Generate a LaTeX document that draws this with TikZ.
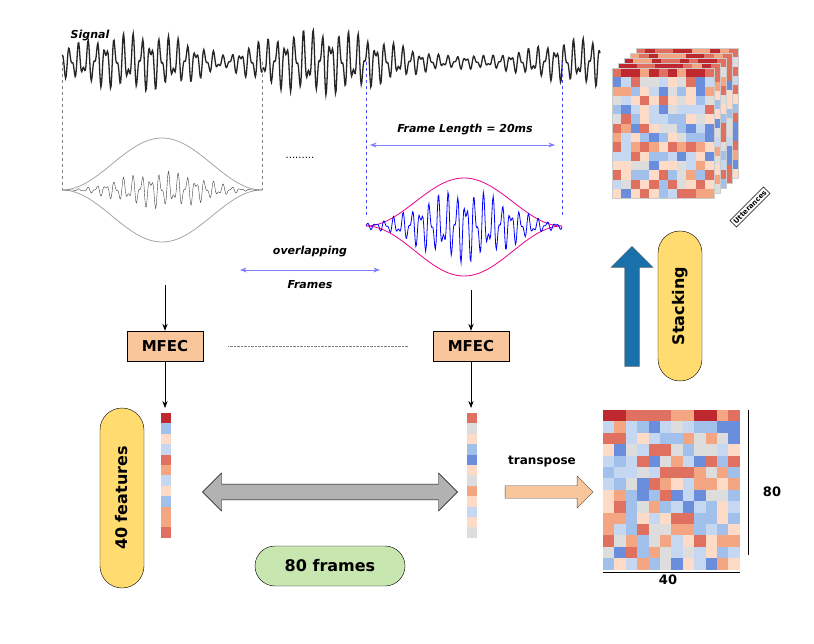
\documentclass[tikz,border=0pt]{standalone}
\usepackage{fontspec}
\setmainfont{DejaVu Sans}
\usetikzlibrary{shapes.arrows,arrows.meta}
\definecolor{hr1}{HTML}{C0282F}\definecolor{hr2}{HTML}{E07060}\definecolor{hr3}{HTML}{F4A582}
\definecolor{hr4}{HTML}{FDDBC7}\definecolor{hr5}{HTML}{DDDDDD}\definecolor{hr6}{HTML}{C6D7F2}
\definecolor{hr7}{HTML}{A2C0EC}\definecolor{hr8}{HTML}{6A8EDC}
\definecolor{mfec}{HTML}{F9C59A}\definecolor{pill}{HTML}{FFDB70}\definecolor{gpill}{HTML}{C8E6B0}
\definecolor{upc}{HTML}{1A70A8}
\tikzset{
 mfecbox/.style={draw=black,fill=mfec,minimum width=76pt,minimum height=30pt,font=\bfseries\fontsize{15}{15}\selectfont},
 ypill/.style={draw=black,fill=pill,rounded corners=22pt,minimum width=180pt,minimum height=44pt,font=\bfseries\fontsize{16}{16}\selectfont},
 lbl/.style={font=\bfseries\itshape\fontsize{11}{11}\selectfont},
 arr/.style={-{Stealth[length=7pt]},thick},
 declare function={osc(\x)=sin(40*mod(\x,9))+0.6*sin(72*mod(\x,5)+30);},
}
\newcommand{\hmap}[7]{% x0,y0,cols,rows,cw,seed,maxidx
 \pgfmathsetseed{#6}
 \foreach \i in {1,...,#3}{\foreach \j in {1,...,#4}{
  \pgfmathrandominteger{\c}{2}{#7}
  \ifnum\j=1 \pgfmathrandominteger{\c}{1}{3}\fi
  \fill[hr\c] ({#1+(\i-1)*#5},{#2+(\j-1)*#5}) rectangle ++(#5,#5);}}}
\begin{document}
\begin{tikzpicture}[x=1pt,y=-1pt]
\useasboundingbox[fill=white] (0,0) rectangle (814,644);
% signal
\node[lbl] (sig) at (90,36) {Signal};
\draw[line width=1.3pt,black!85] plot[domain=62:600,samples=900] (\x,{62+(4+20*abs(sin(\x*0.8))*abs(sin(\x*0.37)))*osc(\x)});
\draw[dashed,gray] (62,62)--(62,190) (262,62)--(262,190);
\draw[dashed,blue!70] (366,62)--(366,215) (562,62)--(562,215);
% left window
\draw[gray!70,thick] plot[domain=62:262,samples=80] (\x,{190-52*sin(0.9*(\x-62))^2});
\draw[gray!70,thick] plot[domain=62:262,samples=80] (\x,{190+52*sin(0.9*(\x-62))^2});
\draw[black!75] plot[domain=62:262,samples=300] (\x,{190+12*sin(0.9*(\x-62))^2*osc(\x)});
\node at (300,158) {.........};
% right window
\node[lbl] (fl) at (465,130) {Frame Length = 20ms};
\draw[{Stealth}-{Stealth},blue!50,thick] (370,145)--(555,145);
\draw[magenta,thick] plot[domain=366:562,samples=80] (\x,{226-48*sin(0.918*(\x-366))^2});
\draw[magenta,thick] plot[domain=366:562,samples=80] (\x,{226+50*sin(0.918*(\x-366))^2});
\draw[blue,thick] plot[domain=366:562,samples=300] (\x,{226+(3+30*sin(0.918*(\x-366))^2)*osc(\x)/1.4});
\node[lbl] (ov) at (310,252) {overlapping};
\draw[{Stealth}-{Stealth},blue!50,thick] (240,270)--(380,270);
\node[lbl] (fr) at (310,285) {Frames};
% MFEC
\coordinate (a1) at (165,285); \coordinate (a2) at (471,290);
\node[mfecbox] (m1) at (165,346) {MFEC};
\node[mfecbox] (m2) at (471,346) {MFEC};
\draw[arr] (a1)--(m1); \draw[arr] (a2)--(m2);
\draw[densely dotted,gray] ([xshift=25pt]m1.east) -- ([xshift=-25pt]m2.west);
% vectors
\hmap{161}{413}{1}{12}{10.4}{11}{7}
\hmap{467}{413}{1}{12}{10.4}{5}{8}
\coordinate (v1) at (165,408); \coordinate (v2) at (471,408);
\draw[arr] (m1)--(v1); \draw[arr] (m2)--(v2);
\node[ypill,rotate=90] (feat) at (122,498) {40 features};
\node[double arrow,draw=black,fill=gray!60,minimum height=255pt,minimum width=38pt,double arrow head extend=6pt,inner sep=4pt] (da) at (330,492) {};
\node[draw=black,fill=gpill,rounded corners=20pt,minimum width=150pt,minimum height=40pt,font=\bfseries\fontsize{16}{16}\selectfont] (fr80) at (330,566) {80 frames};
\node[font=\bfseries\fontsize{12}{12}\selectfont] (tr) at (542,462) {transpose};
\node[single arrow,draw=black!70,fill=mfec,minimum height=88pt,minimum width=32pt,single arrow head extend=5pt,inner sep=3pt] (ta) at (546,492) {};
% heatmap
\hmap{603}{410}{12}{14}{11.4}{7}{8}
\draw (748,410)--(748,555);
\draw (603,572)--(740,572);
\node[font=\bfseries\fontsize{13}{13}\selectfont] (n80) at (772,492) {80};
\node[font=\bfseries\fontsize{13}{13}\selectfont] (n40) at (668,580) {40};
\node[single arrow,draw=black!60,fill=upc,shape border rotate=90,minimum height=120pt,minimum width=42pt,single arrow head extend=6pt,inner sep=3pt] (up) at (632,310) {};
\node[ypill,rotate=90,minimum width=150pt] (stk) at (680,306) {Stacking};
% stack
\foreach \k/\s in {4/21,3/22,2/23,1/24,0/25}{
 \begin{scope}[shift={(\k*6,-\k*5)}]
  \hmap{612}{68}{11}{14}{9.3}{\s}{8}
  \draw[white!80!black,line width=0.3pt] (612,68) rectangle ++(102.3,130.2);
 \end{scope}}
\node[draw=black,fill=white,rotate=45,inner sep=2pt,font=\bfseries\fontsize{7}{7}\selectfont] (utt) at (750,207) {Utterances};
\end{tikzpicture}
\end{document}
